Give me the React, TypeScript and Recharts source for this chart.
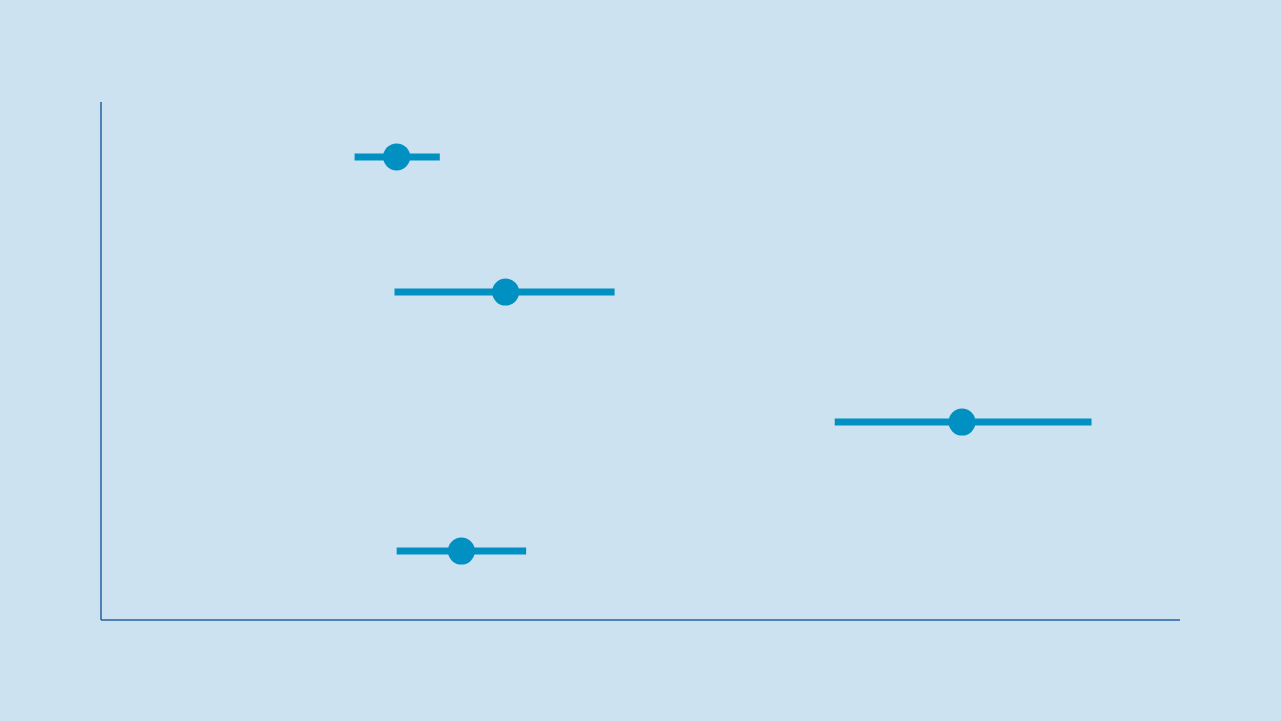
import React from "react";
import { ScatterChart, Scatter, XAxis, YAxis, ErrorBar } from "recharts";

// row positions (y) and estimates with interval bounds (x)
const rows = [89.4, 63.3, 38.2, 13.3];
const estimates = [27.4, 37.5, 79.8, 33.4];
const lowers = [23.5, 27.2, 68.0, 27.4];
const uppers = [31.4, 47.6, 91.8, 39.4];

const data = rows.map((y, i) => ({
  x: estimates[i],
  y,
  err: [estimates[i] - lowers[i], uppers[i] - estimates[i]],
}));

const DOT = "#0091c2";
const AXIS = "#2461a0";

const Dot = (props: any) => <circle cx={props.cx} cy={props.cy} r={13.5} fill={DOT} />;

export default function App() {
  return (
    <div
      style={{
        position: "absolute",
        left: 0,
        top: 0,
        width: 1281,
        height: 721,
        background: "#cde2f0",
      }}
    >
      <ScatterChart width={1281} height={721} margin={{ top: 102, right: 101, bottom: 100, left: 100 }}>
        <XAxis
          type="number"
          dataKey="x"
          domain={[0, 100]}
          height={1}
          tick={false}
          tickLine={false}
          axisLine={{ stroke: AXIS, strokeWidth: 1.5 }}
        />
        <YAxis
          type="number"
          dataKey="y"
          domain={[0, 100]}
          width={1}
          tick={false}
          tickLine={false}
          axisLine={{ stroke: AXIS, strokeWidth: 1.5 }}
        />
        <Scatter data={data} shape={Dot} isAnimationActive={false}>
          <ErrorBar dataKey="err" direction="x" width={0} stroke={DOT} strokeWidth={7} isAnimationActive={false} />
        </Scatter>
      </ScatterChart>
    </div>
  );
}
